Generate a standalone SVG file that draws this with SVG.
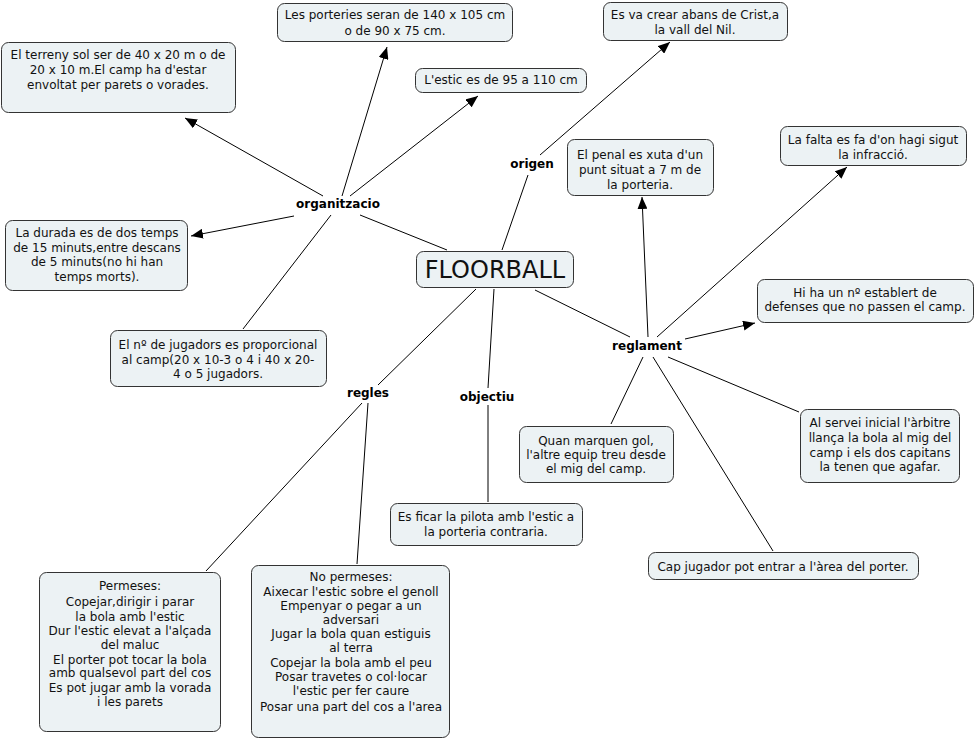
<svg xmlns="http://www.w3.org/2000/svg" width="975" height="740" viewBox="0 0 975 740">
<defs>
<style>
.box{fill:#ecf2f4;stroke:#333;stroke-width:1}
.t{font-family:"DejaVu Sans",Verdana,sans-serif;font-size:12px;fill:#111;text-anchor:middle}
.lbl{font-family:"DejaVu Sans",Verdana,sans-serif;font-size:12px;font-weight:bold;fill:#000;text-anchor:middle}
.big{font-family:"DejaVu Sans",Verdana,sans-serif;font-size:24px;fill:#111;text-anchor:middle}
.c line{stroke:#000;stroke-width:1;fill:none}
.a{marker-end:url(#arr)}
</style>
<marker id="arr" viewBox="0 0 12 10" refX="12" refY="5" markerWidth="12" markerHeight="10" markerUnits="userSpaceOnUse" orient="auto">
<path d="M0,0 L12,5 L0,10 Z" fill="#000"/>
</marker>
</defs>
<rect width="975" height="740" fill="#fff"/>
<g class="c" id="connectors">
<line x1="447" y1="250" x2="360" y2="215"/>
<line class="a" x1="323" y1="196" x2="185" y2="118"/>
<line class="a" x1="342" y1="196" x2="387" y2="47"/>
<line class="a" x1="350" y1="196" x2="478" y2="96"/>
<line class="a" x1="294" y1="216" x2="191" y2="236"/>
<line x1="331" y1="215" x2="243" y2="329"/>
<line x1="502" y1="250" x2="528" y2="175"/>
<line class="a" x1="540" y1="155" x2="670" y2="42"/>
<line x1="535" y1="290" x2="630" y2="337"/>
<line class="a" x1="648" y1="337" x2="642" y2="197"/>
<line class="a" x1="657" y1="337" x2="847" y2="167"/>
<line class="a" x1="685" y1="339" x2="755" y2="323"/>
<line x1="643" y1="357" x2="611" y2="424"/>
<line x1="653" y1="357" x2="773" y2="551"/>
<line x1="668" y1="357" x2="799" y2="412"/>
<line x1="476" y1="289" x2="378" y2="385"/>
<line x1="362" y1="403" x2="206" y2="571"/>
<line x1="368" y1="403" x2="357" y2="564"/>
<line x1="494" y1="289" x2="488" y2="388"/>
<line x1="488" y1="405" x2="488" y2="502"/>
</g>
<g id="floorball"><rect class="box" x="416.5" y="251.5" width="157" height="36" rx="7"/><text class="big" x="495" y="278">FLOORBALL</text></g>
<g id="organitzacio"><text class="lbl" x="338" y="208">organitzacio</text></g>
<g id="origen"><text class="lbl" x="532" y="168">origen</text></g>
<g id="regles"><text class="lbl" x="368" y="397">regles</text></g>
<g id="objectiu"><text class="lbl" x="487" y="401">objectiu</text></g>
<g id="reglament"><text class="lbl" x="647" y="350">reglament</text></g>
<g id="terreny"><rect class="box" x="1.5" y="42.5" width="234" height="70" rx="7"/>
<text class="t" x="118" y="59">El terreny sol ser de 40 x 20 m o de</text>
<text class="t" x="118" y="74">20 x 10 m.El camp ha d'estar</text>
<text class="t" x="118" y="89">envoltat per parets o vorades.</text></g>
<g id="porteries"><rect class="box" x="277.5" y="3.5" width="235" height="38" rx="7"/>
<text class="t" x="395" y="19">Les porteries seran de 140 x 105 cm</text>
<text class="t" x="395" y="35">o de 90 x 75 cm.</text></g>
<g id="estic"><rect class="box" x="415.5" y="68.5" width="171" height="24" rx="7"/>
<text class="t" x="501" y="84">L'estic es de 95 a 110 cm</text></g>
<g id="crear"><rect class="box" x="603.5" y="2.5" width="184" height="38" rx="7"/>
<text class="t" x="695" y="19">Es va crear abans de Crist,a</text>
<text class="t" x="695" y="34">la vall del Nil.</text></g>
<g id="penal"><rect class="box" x="567.5" y="139.5" width="146" height="56" rx="7"/>
<text class="t" x="640" y="159">El penal es xuta d'un</text>
<text class="t" x="640" y="174">punt situat a 7 m de</text>
<text class="t" x="640" y="189">la porteria.</text></g>
<g id="falta"><rect class="box" x="780.5" y="126.5" width="186" height="39" rx="7"/>
<text class="t" x="873" y="144">La falta es fa d'on hagi sigut</text>
<text class="t" x="873" y="159">la infracció.</text></g>
<g id="durada"><rect class="box" x="5.5" y="220.5" width="182" height="70" rx="7"/>
<text class="t" x="97" y="237">La durada es de dos temps</text>
<text class="t" x="97" y="252">de 15 minuts,entre descans</text>
<text class="t" x="97" y="266">de 5 minuts(no hi han</text>
<text class="t" x="97" y="281">temps morts).</text></g>
<g id="jugadors"><rect class="box" x="110.5" y="330.5" width="216" height="56" rx="7"/>
<text class="t" x="218" y="349">El nº de jugadors es proporcional</text>
<text class="t" x="218" y="364">al camp(20 x 10-3 o 4 i 40 x 20-</text>
<text class="t" x="218" y="378">4 o 5 jugadors.</text></g>
<g id="defenses"><rect class="box" x="757.5" y="279.5" width="216" height="43" rx="7"/>
<text class="t" x="865" y="297">Hi ha un nº establert de</text>
<text class="t" x="865" y="311">defenses que no passen el camp.</text></g>
<g id="gol"><rect class="box" x="519.5" y="426.5" width="154" height="56" rx="7"/>
<text class="t" x="596" y="445">Quan marquen gol,</text>
<text class="t" x="596" y="459">l'altre equip treu desde</text>
<text class="t" x="596" y="473">el mig del camp.</text></g>
<g id="servei"><rect class="box" x="800.5" y="409.5" width="159" height="73" rx="7"/>
<text class="t" x="880" y="427">Al servei inicial l'àrbitre</text>
<text class="t" x="880" y="442">llança la bola al mig del</text>
<text class="t" x="880" y="457">camp i els dos capitans</text>
<text class="t" x="880" y="471">la tenen que agafar.</text></g>
<g id="ficar"><rect class="box" x="390.5" y="503.5" width="192" height="42" rx="7"/>
<text class="t" x="486" y="521">Es ficar la pilota amb l'estic a</text>
<text class="t" x="486" y="536">la porteria contraria.</text></g>
<g id="cap"><rect class="box" x="648.5" y="552.5" width="270" height="27" rx="7"/>
<text class="t" x="783" y="571">Cap jugador pot entrar a l'àrea del porter.</text></g>
<g id="permeses"><rect class="box" x="39.5" y="572.5" width="181" height="159" rx="7"/>
<text class="t" x="130" y="590">Permeses:</text>
<text class="t" x="130" y="606">Copejar,dirigir i parar</text>
<text class="t" x="130" y="621">la bola amb l'estic</text>
<text class="t" x="130" y="635">Dur l'estic elevat a l'alçada</text>
<text class="t" x="130" y="649">del maluc</text>
<text class="t" x="130" y="664">El porter pot tocar la bola</text>
<text class="t" x="130" y="677">amb qualsevol part del cos</text>
<text class="t" x="130" y="692">Es pot jugar amb la vorada</text>
<text class="t" x="130" y="706">i les parets</text></g>
<g id="nopermeses"><rect class="box" x="251.5" y="565.5" width="198" height="172" rx="7"/>
<text class="t" x="351" y="581">No permeses:</text>
<text class="t" x="351" y="596">Aixecar l'estic sobre el genoll</text>
<text class="t" x="351" y="610">Empenyar o pegar a un</text>
<text class="t" x="351" y="624">adversari</text>
<text class="t" x="351" y="638">Jugar la bola quan estiguis</text>
<text class="t" x="351" y="652">al terra</text>
<text class="t" x="351" y="667">Copejar la bola amb el peu</text>
<text class="t" x="351" y="681">Posar travetes o col·locar</text>
<text class="t" x="351" y="695">l'estic per fer caure</text>
<text class="t" x="351" y="711">Posar una part del cos a l'area</text></g>
</svg>
